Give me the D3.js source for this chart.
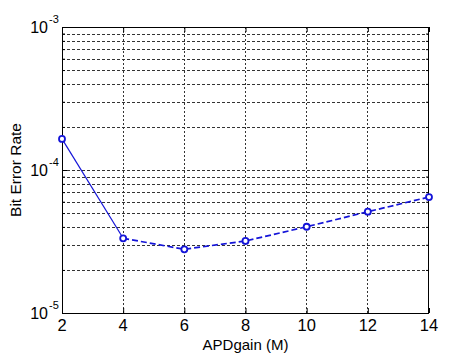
<!DOCTYPE html>
<html><head><meta charset="utf-8">
<script src="https://cdn.jsdelivr.net/npm/d3@7"></script>
<style>body{margin:0;background:#fff}svg{display:block}</style>
</head><body>
<svg id="c" width="474" height="355"></svg>
<script>
const gain = [2, 4, 6, 8, 10, 12, 14];
const ber = [1.65e-4, 3.33e-5, 2.79e-5, 3.19e-5, 4.01e-5, 5.11e-5, 6.47e-5];
const xTicks = [2, 4, 6, 8, 10, 12, 14];
const yMajor = [1e-5, 1e-4, 1e-3];
const yExp = ["-5", "-4", "-3"];
const yMinor = [2e-5,3e-5,4e-5,5e-5,6e-5,7e-5,8e-5,9e-5,2e-4,3e-4,4e-4,5e-4,6e-4,7e-4,8e-4,9e-4];

const L = 62, R = 429, T = 27, B = 313;
const svg = d3.select("#c");
const x = d3.scaleLinear().domain([2, 14]).range([L, R]);
const y = d3.scaleLog().domain([1e-5, 1e-3]).range([B, T]);
const font = "Arial, 'Liberation Sans', sans-serif";
const gridCol = "#333";

// grid
const g = svg.append("g");
g.selectAll(".vx").data(xTicks.slice(1, -1)).enter().append("line")
  .attr("x1", d => x(d)).attr("x2", d => x(d)).attr("y1", T).attr("y2", B)
  .attr("stroke", gridCol).attr("stroke-width", 1).attr("stroke-dasharray", "2,2")
  .attr("shape-rendering", "crispEdges");
g.selectAll(".hy").data(yMinor.concat([1e-4])).enter().append("line")
  .attr("x1", L).attr("x2", R).attr("y1", d => Math.round(y(d)) + 0.5).attr("y2", d => Math.round(y(d)) + 0.5)
  .attr("stroke", gridCol).attr("stroke-width", 1).attr("stroke-dasharray", "3,2");

// axis ticks (inward)
const xAxB = d3.axisBottom(x).tickValues(xTicks).tickSize(-5).tickFormat("");
const xAxT = d3.axisTop(x).tickValues(xTicks).tickSize(-5).tickFormat("");
svg.append("g").attr("transform", `translate(0,${B})`).call(xAxB).call(s => s.select(".domain").remove());
svg.append("g").attr("transform", `translate(0,${T})`).call(xAxT).call(s => s.select(".domain").remove());
const yAxL = d3.axisLeft(y).tickValues(yMajor).tickSize(-5).tickFormat("");
const yAxR = d3.axisRight(y).tickValues(yMajor).tickSize(-5).tickFormat("");
const yAxLm = d3.axisLeft(y).tickValues(yMinor).tickSize(-3).tickFormat("");
const yAxRm = d3.axisRight(y).tickValues(yMinor).tickSize(-3).tickFormat("");
[[yAxL, L], [yAxLm, L], [yAxR, R], [yAxRm, R]].forEach(([a, px]) => {
  svg.append("g").attr("transform", `translate(${px},0)`).call(a).call(s => s.select(".domain").remove());
});
svg.selectAll(".tick line").attr("stroke", "#000");

// box
svg.append("rect").attr("x", L + 0.5).attr("y", T + 0.5).attr("width", R - L - 1).attr("height", B - T)
  .attr("fill", "none").attr("stroke", "#000").attr("stroke-width", 1);

// x tick labels
svg.selectAll(".xl").data(xTicks).enter().append("text")
  .attr("x", d => x(d)).attr("y", 331).attr("text-anchor", "middle")
  .attr("font-family", font).attr("font-size", 16.5).text(d => d);

// y tick labels
yMajor.forEach((v, i) => {
  svg.append("text").attr("x", 48).attr("y", y(v) + 6)
    .attr("text-anchor", "end").attr("font-family", font).attr("font-size", 16).text("10");
  svg.append("text").attr("x", 49).attr("y", y(v) - 4)
    .attr("font-family", font).attr("font-size", 11).text(yExp[i]);
});

// axis labels
svg.append("text").attr("x", (L + R) / 2).attr("y", 349.5).attr("text-anchor", "middle")
  .attr("font-family", font).attr("font-size", 15).text("APDgain (M)");
svg.append("text").attr("transform", `translate(21,${(T + B) / 2}) rotate(-90)`)
  .attr("text-anchor", "middle").attr("font-family", font).attr("font-size", 15.5).text("Bit Error Rate");

// data line
const pts = gain.map((d, i) => [x(d), y(ber[i])]);
const line = d3.line();
const blue = "#1414d8";
svg.append("path").attr("d", line(pts.slice(0, 2))).attr("fill", "none")
  .attr("stroke", blue).attr("stroke-width", 1.2);
svg.append("path").attr("d", line(pts.slice(1))).attr("fill", "none")
  .attr("stroke", blue).attr("stroke-width", 1.7).attr("stroke-dasharray", "6,3");
svg.selectAll(".pt").data(pts).enter().append("circle")
  .attr("cx", d => d[0]).attr("cy", d => d[1]).attr("r", 3)
  .attr("fill", "#fff").attr("stroke", blue).attr("stroke-width", 1.8);
</script>
</body></html>
